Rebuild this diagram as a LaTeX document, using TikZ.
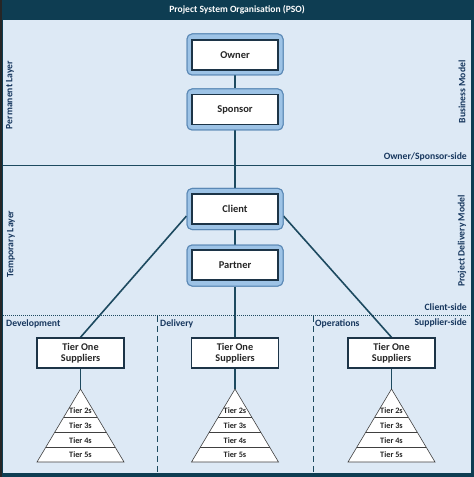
\documentclass[tikz,border=0pt]{standalone}
\usepackage{fontspec}
\setmainfont{Carlito}
\usetikzlibrary{calc}
\definecolor{frame}{HTML}{0E3D52}
\definecolor{bgblue}{HTML}{DDE9F5}
\definecolor{outerfill}{HTML}{9DC3E6}
\definecolor{outerdraw}{HTML}{5A88B5}
\definecolor{innerdraw}{HTML}{1C3447}
\definecolor{conncol}{HTML}{1D4A60}
\definecolor{labcol}{HTML}{17375E}
\tikzset{
  outerbox/.style={draw=outerdraw, fill=outerfill, line width=1bp, rounded corners=5bp, minimum width=96bp, minimum height=41bp, inner sep=0pt},
  innerbox/.style={draw=innerdraw, fill=white, line width=1.6bp, minimum width=86bp, minimum height=30bp, inner sep=0pt, font=\bfseries\fontsize{10.5}{12}\selectfont, text=black!85},
  tierbox/.style={draw=innerdraw, fill=white, line width=1.4bp, minimum width=87bp, minimum height=30bp, inner sep=0pt, align=center, font=\bfseries\fontsize{10.3}{11.5}\selectfont, text=black!85},
  conn/.style={draw=conncol, line width=1.6bp},
  lab/.style={text=labcol, font=\bfseries\fontsize{9.7}{11}\selectfont, inner sep=0pt},
  tiertxt/.style={font=\bfseries\fontsize{8.3}{9}\selectfont, text=black!85, inner sep=0pt},
  pyr/.style={draw=black!75, fill=white, line width=0.6bp},
}
\begin{document}
\begin{tikzpicture}[x=1bp, y=-1bp]
\useasboundingbox (0,0) rectangle (474,477);
% frame and background
\fill[frame] (0,0) rectangle (474,477);
\fill[black!85] (0,0) rectangle (2,477);
\fill[bgblue] (3,20) rectangle (471,473);
\node[text=white, font=\bfseries\fontsize{9.6}{11}\selectfont, inner sep=0pt] (title) at (237,10) {Project System Organisation (PSO)};
% layer separators
\draw[conncol, line width=1bp] (3,166) -- (471,166);
\draw[conncol, line width=0.7bp, dash pattern=on 0.8bp off 1.2bp] (3,315) -- (471,315);
\draw[conncol, line width=0.8bp, dash pattern=on 6bp off 4bp] (157,316) -- (157,473);
\draw[conncol, line width=0.8bp, dash pattern=on 6bp off 4bp] (313,316) -- (313,473);
% labels
\node[lab, rotate=90] (perm) at (10,95) {Permanent Layer};
\node[lab, rotate=90] (busm) at (462,92) {Business Model};
\node[lab, rotate=90] (temp) at (11,244) {Temporary Layer};
\node[lab, rotate=90] (pdm) at (462,241) {Project Delivery Model};
\node[lab, anchor=east] (oss) at (467,157) {Owner/Sponsor-side};
\node[lab, anchor=east] (cs) at (467,307) {Client-side};
\node[lab, anchor=east] (ss) at (467,323) {Supplier-side};
\node[lab, anchor=west] (dev) at (6,324) {Development};
\node[lab, anchor=west] (del) at (160,324) {Delivery};
\node[lab, anchor=west] (ops) at (315,324) {Operations};
% outer boxes (coordinates for connectors)
\node[outerbox] (oO) at (235,54.5) {};
\node[outerbox] (sO) at (235,109.5) {};
\node[outerbox] (cO) at (235,209) {};
\node[outerbox] (pO) at (235,265.5) {};
% tier one boxes
\node[tierbox] (t1) at (80.5,353) {Tier One\\Suppliers};
\node[tierbox] (t2) at (235,353) {Tier One\\Suppliers};
\node[tierbox] (t3) at (391.5,353) {Tier One\\Suppliers};
% pyramid apex coordinates
\coordinate (a1) at (80.5,389);
\coordinate (a2) at (235,389);
\coordinate (a3) at (391.5,389);
% connectors (behind boxes)
\draw[conn] (oO.south) -- (sO.north);
\draw[conn] (sO.south) -- (cO.north);
\draw[conn] (cO.south) -- (pO.north);
\draw[conn] (pO.south) -- (t2.north);
\draw[conn] ($(cO.west)+(0,7)$) -- (t1.north);
\draw[conn] ($(cO.east)+(0,7)$) -- (t3.north);
\draw[conn] (t1.south) -- (a1);
\draw[conn] (t2.south) -- (a2);
\draw[conn] (t3.south) -- (a3);
% redraw boxes on top
\node[outerbox] at (235,54.5) {};
\node[outerbox] at (235,109.5) {};
\node[outerbox] at (235,209) {};
\node[outerbox] at (235,265.5) {};
\node[innerbox] (owner) at (235,55) {Owner};
\node[innerbox] (sponsor) at (235,109.5) {Sponsor};
\node[innerbox] (client) at (235,209) {Client};
\node[innerbox] (partner) at (235,265) {Partner};
\node[tierbox] at (80.5,353) {Tier One\\Suppliers};
\node[tierbox] at (235,353) {Tier One\\Suppliers};
\node[tierbox] at (391.5,353) {Tier One\\Suppliers};
% pyramids
\foreach \px/\n in {80.5/1, 235/2, 391.5/3}{
  \draw[pyr] (\px,389) -- (\px+43.5,462) -- (\px-43.5,462) -- cycle;
  \draw[pyr] (\px-16.7,417) -- (\px+16.7,417);
  \draw[pyr] (\px-25.6,432) -- (\px+25.6,432);
  \draw[pyr] (\px-34.6,447) -- (\px+34.6,447);
  \node[tiertxt] (p\n a) at (\px,411) {Tier 2s};
  \node[tiertxt] (p\n b) at (\px,425.5) {Tier 3s};
  \node[tiertxt] (p\n c) at (\px,440.5) {Tier 4s};
  \node[tiertxt] (p\n d) at (\px,455) {Tier 5s};
}
\end{tikzpicture}
\end{document}
